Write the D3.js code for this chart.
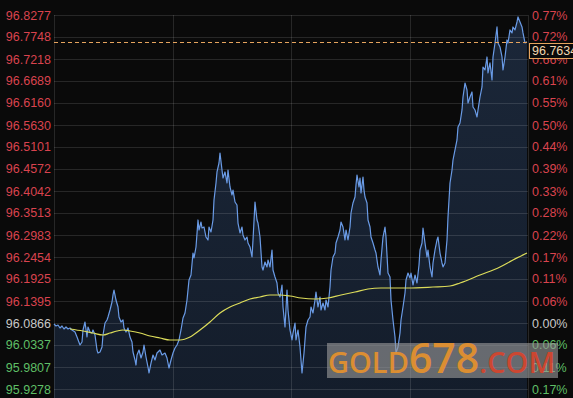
<!DOCTYPE html>
<html>
<head>
<meta charset="utf-8">
<script src="https://cdn.jsdelivr.net/npm/d3@7"></script>
<style>
  body { margin: 0; background: #0a0a0a; }
  svg { display: block; font-family: Arial, "Liberation Sans", sans-serif; }
</style>
</head>
<body>
<div id="chart"></div>
<script>
// price axis ticks (left) and percent labels (right)
const priceTicks = [96.8277, 96.7748, 96.7218, 96.6689, 96.6160, 96.5630, 96.5101, 96.4572, 96.4042,
                    96.3513, 96.2983, 96.2454, 96.1925, 96.1395, 96.0866, 96.0337, 95.9807, 95.9278];
const pctLabels = ["0.77%", "0.72%", "0.66%", "0.61%", "0.55%", "0.50%", "0.44%", "0.39%", "0.33%",
                   "0.28%", "0.22%", "0.17%", "0.11%", "0.06%", "0.00%", "0.06%", "0.11%", "0.17%"];
const basePrice = 96.0866;
const lastPrice = 96.7634;

// 3-minute bar index, 474 bars across the session
const barCount = 474;
const sessionBreaks = [0, 119, 237, 356, 474];

// price line (bar index, price)
const priceBars = [0,2,4,6,8,10,12,14,16,18,21,23,26,28,29,31,33,34,36,38,39,41,43,44,46,48,49,51,53,54,56,58,59,60,62,64,65,67,69,70,72,74,76,78,79,81,82,83,85,87,89,90,92,94,95,97,99,101,103,106,108,111,113,115,117,119,121,123,125,127,129,131,133,135,137,139,140,142,144,145,147,148,150,152,154,155,157,159,160,162,163,165,166,168,169,171,173,174,176,178,179,181,183,184,186,188,189,191,193,194,196,198,199,201,203,204,206,208,209,211,213,214,216,218,219,221,223,224,226,228,229,231,233,234,236,238,239,241,242,244,246,247,248,250,252,254,256,257,259,261,262,264,266,267,269,271,272,274,276,277,279,281,282,284,286,287,289,291,292,294,296,297,299,301,302,303,305,306,307,309,310,311,313,314,316,317,319,321,322,324,326,327,329,331,332,334,336,337,339,341,342,344,346,347,349,351,352,354,356,357,359,361,363,365,366,368,369,371,373,374,376,378,379,381,383,384,386,388,389,391,393,394,396,398,399,401,403,404,406,408,409,411,413,414,416,418,419,421,423,424,426,428,429,431,433,434,436,438,439,441,443,444,446,448,449,451,453,454,456,458,459,461,463,464,466,468,469,471,473];
const priceValues = [96.0842,96.0794,96.0818,96.0746,96.0794,96.0722,96.0770,96.0722,96.0746,96.0698,96.0649,96.0529,96.0337,96.0409,96.0698,96.0890,96.0529,96.0770,96.0649,96.0625,96.0698,96.0577,96.0216,96.0144,96.0168,96.0288,96.0577,96.0866,96.0938,96.1010,96.1179,96.1371,96.1540,96.1660,96.1419,96.1251,96.1010,96.0890,96.0938,96.0746,96.0649,96.0746,96.0529,96.0409,96.0168,95.9976,95.9855,96.0096,96.0216,96.0024,96.0168,96.0337,96.0048,95.9807,95.9663,95.9903,96.0096,95.9976,96.0144,96.0216,96.0096,96.0144,96.0024,95.9783,95.9976,96.0144,96.0264,96.0337,96.0457,96.0698,96.0986,96.1107,96.1419,96.1901,96.2021,96.2550,96.2430,96.2695,96.3345,96.3104,96.3296,96.3152,96.3176,96.2935,96.2863,96.3176,96.3056,96.3345,96.3826,96.4235,96.4500,96.4716,96.4957,96.4548,96.4355,96.4500,96.4235,96.4548,96.4139,96.3946,96.4066,96.3778,96.3706,96.3272,96.3032,96.3176,96.2984,96.2863,96.2935,96.2791,96.2695,96.2454,96.2863,96.3778,96.3345,96.3272,96.2935,96.2214,96.2141,96.2334,96.2214,96.2382,96.2214,96.2623,96.2141,96.1973,96.1829,96.1588,96.1492,96.1780,96.1251,96.0770,96.1660,96.1179,96.0698,96.0457,96.0625,96.0866,96.0457,96.0698,96.0288,95.9976,95.9663,96.0144,96.0770,96.0938,96.1010,96.1251,96.1107,96.1419,96.1612,96.1251,96.1492,96.1179,96.1347,96.1179,96.1419,96.1251,96.1732,96.2141,96.2454,96.2550,96.2791,96.2935,96.3104,96.3296,96.3176,96.2863,96.3104,96.2863,96.3176,96.3513,96.3754,96.3898,96.4187,96.4427,96.4139,96.4355,96.3994,96.4379,96.4066,96.3898,96.3754,96.3345,96.3176,96.2935,96.2791,96.2623,96.2550,96.2214,96.2021,96.2382,96.2935,96.3176,96.2935,96.2069,96.1973,96.1419,96.0938,96.0529,96.0144,96.0288,96.0625,96.0938,96.1251,96.1588,96.1901,96.2069,96.1949,96.2069,96.1780,96.2021,96.1829,96.2262,96.2623,96.2791,96.3152,96.2791,96.2454,96.2623,96.2214,96.1973,96.2310,96.2623,96.2863,96.2935,96.2550,96.2310,96.2214,96.2310,96.2863,96.3417,96.4235,96.4548,96.4788,96.5029,96.5270,96.5583,96.5679,96.5992,96.6304,96.6641,96.6473,96.6160,96.6304,96.6425,96.6064,96.5992,96.5823,96.5992,96.6304,96.6545,96.7026,96.6954,96.7267,96.6882,96.7123,96.6714,96.7267,96.7604,96.7989,96.7604,96.7508,96.7267,96.6954,96.7267,96.7676,96.7604,96.7917,96.7845,96.7989,96.7917,96.8109,96.8230,96.8109,96.7989,96.7845,96.7604,96.7634];

// moving average line (bar index, price)
const maBars = [16,29,39,49,56,63,69,76,86,96,106,116,126,136,146,156,166,176,186,196,206,216,226,236,247,261,274,287,301,314,327,341,354,379,396,406,426,446,459,473];
const maValues = [96.0722,96.0673,96.0625,96.0577,96.0625,96.0673,96.0698,96.0673,96.0625,96.0553,96.0505,96.0457,96.0457,96.0529,96.0698,96.0890,96.1107,96.1251,96.1347,96.1444,96.1492,96.1540,96.1540,96.1516,96.1468,96.1444,96.1468,96.1540,96.1612,96.1684,96.1708,96.1708,96.1708,96.1732,96.1756,96.1829,96.2021,96.2214,96.2382,96.2550];

const width = 573, height = 398;
const margin = {top: 15, right: 45, bottom: 9, left: 54};
const plotRight = width - margin.right;   // 528
const plotBottom = height - margin.bottom; // 389

const svg = d3.select("#chart").append("svg")
    .attr("width", width)
    .attr("height", height);

svg.append("rect").attr("width", width).attr("height", height).attr("fill", "#0a0a0a");

const x = d3.scaleLinear().domain([0, barCount]).range([margin.left, plotRight]);
const y = d3.scaleLinear().domain([d3.min(priceTicks), d3.max(priceTicks)]).range([plotBottom, margin.top]);

// gradient for area
const defs = svg.append("defs");
const grad = defs.append("linearGradient")
    .attr("id", "areaGrad")
    .attr("x1", 0).attr("y1", 0).attr("x2", 0).attr("y2", 1);
grad.append("stop").attr("offset", "0%").attr("stop-color", "#1b2739");
grad.append("stop").attr("offset", "100%").attr("stop-color", "#141d2b");

const priceData = priceBars.map((b, i) => ({bar: b, price: priceValues[i]}))
    .filter(d => d.price !== undefined);
const maData = maBars.map((b, i) => ({bar: b, price: maValues[i]}));

// area under price line
svg.append("path")
    .datum(priceData)
    .attr("fill", "url(#areaGrad)")
    .attr("d", d3.area().x(d => x(d.bar)).y0(height).y1(d => y(d.price)));

// horizontal grid
svg.append("g")
    .attr("class", "grid")
    .selectAll("line")
    .data(priceTicks)
    .join("line")
    .attr("x1", margin.left).attr("x2", plotRight)
    .attr("y1", d => Math.round(y(d)) + 0.5).attr("y2", d => Math.round(y(d)) + 0.5)
    .attr("stroke", "#ffffff")
    .attr("stroke-opacity", 0.12);

// vertical grid
svg.append("g")
    .selectAll("line")
    .data(sessionBreaks)
    .join("line")
    .attr("x1", d => Math.round(x(d)) + 0.5).attr("x2", d => Math.round(x(d)) + 0.5)
    .attr("y1", margin.top).attr("y2", height)
    .attr("stroke", "#ffffff")
    .attr("stroke-opacity", 0.12);

// price line
svg.append("path")
    .datum(priceData)
    .attr("fill", "none")
    .attr("stroke", "#6a9be6")
    .attr("stroke-width", 1.2)
    .attr("stroke-linejoin", "round")
    .attr("d", d3.line().x(d => x(d.bar)).y(d => y(d.price)));

// moving average
svg.append("path")
    .datum(maData)
    .attr("fill", "none")
    .attr("stroke", "#dcdc5a")
    .attr("stroke-width", 1.2)
    .attr("d", d3.line().curve(d3.curveMonotoneX).x(d => x(d.bar)).y(d => y(d.price)));

// last price dashed line
svg.append("line")
    .attr("x1", margin.left).attr("x2", plotRight)
    .attr("y1", Math.round(y(lastPrice)) + 0.5).attr("y2", Math.round(y(lastPrice)) + 0.5)
    .attr("stroke", "#e6a45e")
    .attr("stroke-dasharray", "4,3");

function labelColor(p) {
    if (Math.abs(p - basePrice) < 1e-6) return "#c8c8c8";
    return p > basePrice ? "#d9434e" : "#5fbf66";
}

// left axis labels
const yAxisLeft = d3.axisLeft(y).tickValues(priceTicks).tickSize(0).tickPadding(3).tickFormat(d3.format(".4f"));
const gl = svg.append("g").attr("transform", `translate(${margin.left},0)`).call(yAxisLeft);
gl.select(".domain").remove();
gl.selectAll("text")
    .attr("fill", d => labelColor(d))
    .style("font-size", "12.5px")
    .style("font-family", "Arial, 'Liberation Sans', sans-serif");

// right axis labels
const yAxisRight = d3.axisRight(y).tickValues(priceTicks).tickSize(0).tickPadding(4)
    .tickFormat((d, i) => pctLabels[i]);
const gr = svg.append("g").attr("transform", `translate(${plotRight},0)`).call(yAxisRight);
gr.select(".domain").remove();
gr.selectAll("text")
    .attr("fill", d => labelColor(d))
    .style("font-size", "12.5px")
    .style("font-family", "Arial, 'Liberation Sans', sans-serif");

// last price tag
const tagY = Math.round(y(lastPrice));
svg.append("rect")
    .attr("x", plotRight + 1.5).attr("y", tagY + 1.5)
    .attr("width", 50).attr("height", 15)
    .attr("fill", "#0a0a0a")
    .attr("stroke", "#e6a45e");
svg.append("text")
    .attr("x", plotRight + 4).attr("y", tagY + 13)
    .attr("fill", "#f2d7b0")
    .style("font-size", "12.5px")
    .text(lastPrice.toFixed(4));

// watermark
const wm = svg.append("g");
wm.append("rect")
    .attr("x", 327).attr("y", 343).attr("width", 231).attr("height", 35)
    .attr("fill", "#9a9a9a").attr("opacity", 0.62);
const wmText = wm.append("text")
    .attr("x", 328).attr("y", 373)
    .style("font-family", "'Open Sans', 'DejaVu Sans', sans-serif")
    .style("font-weight", "600")
    .attr("opacity", 0.9);
wmText.append("tspan").attr("fill", "#e8922c").style("font-size", "29px").text("GOLD");
wmText.append("tspan").attr("fill", "#e8922c").style("font-size", "41px").text("678");
wmText.append("tspan").attr("fill", "#d8442c").style("font-size", "29px").text(".COM");
</script>
</body>
</html>
